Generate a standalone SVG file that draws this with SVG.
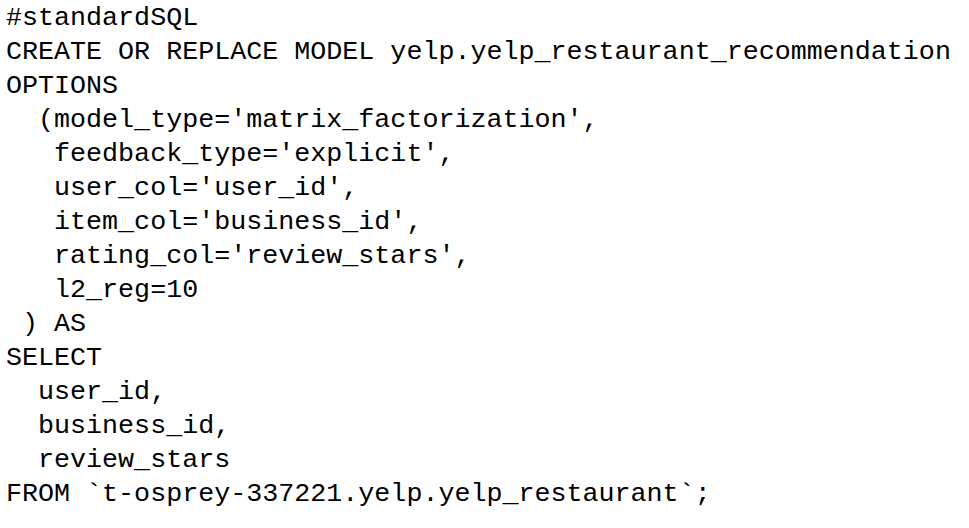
<svg xmlns="http://www.w3.org/2000/svg" width="969" height="528" viewBox="0 0 969 528">
<style>text{font-family:"Liberation Mono","DejaVu Sans Mono",monospace;font-size:26.7px;fill:#000;white-space:pre}</style>
<rect width="969" height="528" fill="#fff"/>
<g id="code" xml:space="preserve">
<text x="6" y="25">#standardSQL</text>
<text x="6" y="59">CREATE OR REPLACE MODEL yelp.yelp_restaurant_recommendation</text>
<text x="6" y="93">OPTIONS</text>
<text x="6" y="127">  (model_type='matrix_factorization',</text>
<text x="6" y="161">   feedback_type='explicit',</text>
<text x="6" y="195">   user_col='user_id',</text>
<text x="6" y="229">   item_col='business_id',</text>
<text x="6" y="263">   rating_col='review_stars',</text>
<text x="6" y="297">   l2_reg=10</text>
<text x="6" y="331"> ) AS</text>
<text x="6" y="365">SELECT</text>
<text x="6" y="399">  user_id,</text>
<text x="6" y="433">  business_id,</text>
<text x="6" y="467">  review_stars</text>
<text x="6" y="501">FROM `t-osprey-337221.yelp.yelp_restaurant`;</text>
</g>
</svg>
